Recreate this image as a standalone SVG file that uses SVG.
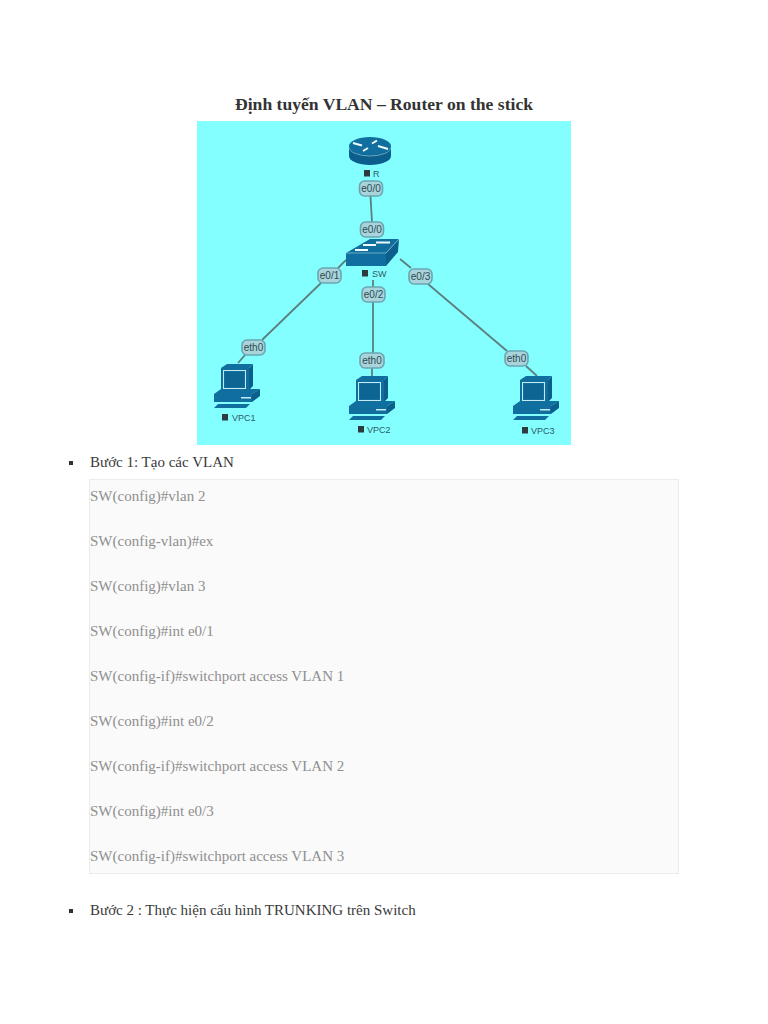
<svg xmlns="http://www.w3.org/2000/svg" width="768" height="1024" viewBox="0 0 768 1024">
<style>
.t{font-family:"Liberation Serif","Times New Roman",serif;font-size:15px;fill:#3a3a3a}
.c{font-family:"Liberation Serif","Times New Roman",serif;font-size:15px;fill:#8f8f8f}
.p{fill:#a9d4dc;stroke:#6aa6b2;stroke-width:1.6}
.pt{font-family:"Liberation Sans",Arial,sans-serif;font-size:10px;fill:#2f4a50;text-anchor:middle}
.n{font-family:"Liberation Sans",Arial,sans-serif;font-size:9px;fill:#2c5a68}
.l{stroke:#5c7f7f;stroke-width:1.8;fill:none}
.b{fill:#116f9f}
.d{fill:#0c5f8c}
.w{fill:none;stroke:#c4ebf2;stroke-width:1}
.a{fill:none;stroke:#eefafc;stroke-width:2}
.s{fill:#2d3a3e}
</style>
<defs>
<g id="pc">
<path class="d" d="M35 4 L39 0 L39 22 L35 26Z"/>
<path class="b" d="M7 4 L13 0 L39 0 L35 4Z"/>
<rect class="b" x="7" y="4" width="28" height="23"/>
<rect class="w" x="9.500" y="6.500" width="22" height="18"/>
<rect x="11" y="8" width="19" height="15" fill="#0d6593"/>
<path class="b" d="M0 30 L7 25 L46 25 L38 30Z"/>
<rect class="b" x="0" y="30" width="38" height="8"/>
<path class="d" d="M38 30 L46 25 L46 32 L38 38Z"/>
<rect x="27" y="33" width="10" height="1.500" fill="#c4ebf2"/>
<path class="b" d="M0 44 L4 40 L36 40 L32 44Z"/>
</g>
</defs>
<rect width="768" height="1024" fill="#fff"/>
<text x="384" y="110" text-anchor="middle" font-family="Liberation Serif,Times New Roman,serif" font-size="17.600" font-weight="bold" fill="#333">Định tuyến VLAN – Router on the stick</text>
<rect x="197" y="121" width="374" height="324" fill="#84ffff"/>
<g id="connectors">
<line class="l" x1="370.500" y1="196" x2="372" y2="222"/>
<line class="l" x1="346" y1="260" x2="338" y2="268"/>
<line class="l" x1="321" y1="283" x2="262" y2="340"/>
<line class="l" x1="373" y1="280" x2="373" y2="353"/>
<line class="l" x1="400" y1="259" x2="411" y2="268"/>
<line class="l" x1="428" y1="284" x2="507" y2="351"/>
<line class="l" x1="238" y1="363" x2="245" y2="355"/>
<line class="l" x1="372" y1="368" x2="372" y2="376"/>
<line class="l" x1="526" y1="366" x2="537" y2="376"/>
</g>
<g id="node-R">
<path class="d" d="M349 146 V156 A21 9 0 0 0 391 156 V146Z"/>
<ellipse class="b" cx="370" cy="146" rx="21" ry="9"/>
<path fill="none" stroke="#8fc6d8" stroke-width=".7" d="M349 147 A21 9 0 0 0 391 147"/>
<path class="a" d="M353 143 L362 145.500 M388 149 L378 146 M377 140.500 L372 143.500 M363 151 L368 148"/>
<rect class="s" x="364" y="170" width="6" height="6.500"/><text class="n" x="373" y="177">R</text>
</g>
<g id="node-SW">
<path class="b" d="M346 253 L370 239 L399 239 L386 253Z"/>
<path class="d" d="M386 253 L399 239 L398 252 L386 266Z"/>
<rect class="b" x="346" y="253" width="40" height="13"/>
<path fill="none" stroke="#8fc6d8" stroke-width=".7" d="M346 253 H386 L399 239"/>
<path class="a" d="M363 245 H376 M376 242.500 H390 M355 250 H368"/>
<rect class="s" x="362" y="270" width="6" height="6.500"/><text class="n" x="372" y="277">SW</text>
</g>
<g id="node-VPC1">
<use href="#pc" x="214" y="364"/>
<rect class="s" x="222" y="414" width="6" height="6.500"/><text class="n" x="232" y="421">VPC1</text>
</g>
<g id="node-VPC2">
<use href="#pc" x="349" y="376"/>
<rect class="s" x="358" y="426" width="6" height="6.500"/><text class="n" x="367" y="433">VPC2</text>
</g>
<g id="node-VPC3">
<use href="#pc" x="513" y="376"/>
<rect class="s" x="522" y="427" width="6" height="6.500"/><text class="n" x="531" y="434">VPC3</text>
</g>
<g id="port-labels">
<rect class="p" x="359.500" y="181" width="23" height="15" rx="5"/><text class="pt" x="371" y="192">e0/0</text>
<rect class="p" x="360.500" y="222" width="23" height="15" rx="5"/><text class="pt" x="372" y="233">e0/0</text>
<rect class="p" x="318" y="268" width="23" height="15" rx="5"/><text class="pt" x="329.500" y="279">e0/1</text>
<rect class="p" x="362" y="287" width="23" height="15" rx="5"/><text class="pt" x="373.500" y="298">e0/2</text>
<rect class="p" x="409" y="269" width="23" height="15" rx="5"/><text class="pt" x="420.500" y="280">e0/3</text>
<rect class="p" x="242" y="340" width="23" height="15" rx="5"/><text class="pt" x="253.500" y="351">eth0</text>
<rect class="p" x="360" y="353" width="24" height="15" rx="5"/><text class="pt" x="372" y="364">eth0</text>
<rect class="p" x="505" y="351" width="23" height="15" rx="5"/><text class="pt" x="516.500" y="362">eth0</text>
</g>
<rect x="69" y="461" width="4" height="4" fill="#333"/>
<text class="t" x="90" y="467">Bước 1: Tạo các VLAN</text>
<rect x="89.500" y="479.500" width="589" height="394" fill="#fafafa" stroke="#ececec"/>
<text class="c" x="90" y="501">SW(config)#vlan 2</text>
<text class="c" x="90" y="546">SW(config-vlan)#ex</text>
<text class="c" x="90" y="591">SW(config)#vlan 3</text>
<text class="c" x="90" y="636">SW(config)#int e0/1</text>
<text class="c" x="90" y="681">SW(config-if)#switchport access VLAN 1</text>
<text class="c" x="90" y="726">SW(config)#int e0/2</text>
<text class="c" x="90" y="771">SW(config-if)#switchport access VLAN 2</text>
<text class="c" x="90" y="816">SW(config)#int e0/3</text>
<text class="c" x="90" y="861">SW(config-if)#switchport access VLAN 3</text>
<rect x="69" y="909" width="4" height="4" fill="#333"/>
<text class="t" x="90" y="915">Bước 2 : Thực hiện cấu hình TRUNKING trên Switch</text>
</svg>
